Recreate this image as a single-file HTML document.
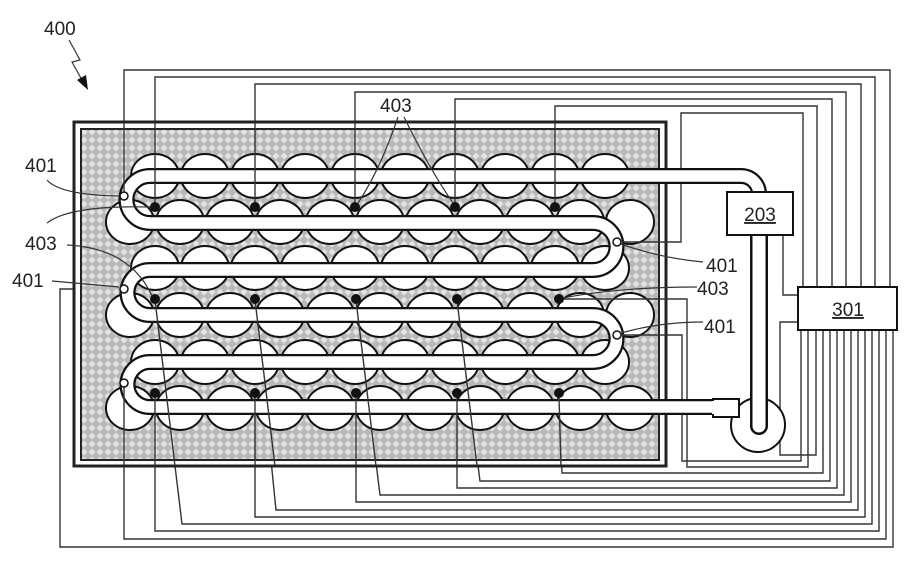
<!DOCTYPE html>
<html><head><meta charset="utf-8"><style>html,body{margin:0;padding:0;background:#fff}svg{display:block}text{font-family:"Liberation Sans",sans-serif;fill:#222}</style></head>
<body>
<svg width="914" height="568" viewBox="0 0 914 568" xmlns="http://www.w3.org/2000/svg">
<defs>
<pattern id="hp" width="8" height="8" patternUnits="userSpaceOnUse">
<rect width="8" height="8" fill="#b9b9b9"/>
<path d="M4,0.5 L7.5,4 L4,7.5 L0.5,4Z" fill="#e4e4e4"/>
</pattern>
<clipPath id="pc"><rect x="81" y="129" width="578" height="331"/></clipPath>
</defs>

<!-- wires top -->
<g fill="none" stroke="#333" stroke-width="1.4">
<path d="M124,192 V70 H890 V287"/>
<path d="M155,203 V77 H875 V287"/>
<path d="M255,203 V84 H861 V287"/>
<path d="M355,203 V92 H846 V287"/>
<path d="M455,203 V99 H832 V287"/>
<path d="M555,203 V106 H817 V287"/>
<path d="M621,242 H681 V113 H803 V287"/>
<!-- bottom -->
<path d="M120,289 H60 V547 H893 V330"/>
<path d="M124,387 V539 H886 V330"/>
<path d="M155,397 V531 H879 V330"/>
<path d="M155,300 L182,524 H872 V330"/>
<path d="M255,397 V517 H865 V330"/>
<path d="M255,300 L276,510 H858 V330"/>
<path d="M356,397 V502 H851 V330"/>
<path d="M356,300 L380,495 H844 V330"/>
<path d="M457,397 V488 H837 V330"/>
<path d="M457,300 L480,481 H830 V330"/>
<path d="M559,397 L562,473 H823 V330"/>
<path d="M559,299 H687 V467 H808 V330"/>
<path d="M621,335 H682 V461 H801 V330"/>
<path d="M783,235 V295 H798"/>
<path d="M798,322 H780 V455 H816 V330"/>
</g>

<!-- panel -->
<rect x="74" y="122" width="592" height="344" fill="#fff" stroke="#222" stroke-width="3"/>
<rect x="81" y="129" width="578" height="331" fill="url(#hp)" stroke="#222" stroke-width="2"/>

<g clip-path="url(#pc)" fill="#fff" stroke="#111" stroke-width="2">
<g id="ra">
<ellipse cx="155" cy="176" rx="24" ry="22"/><ellipse cx="205" cy="176" rx="24" ry="22"/><ellipse cx="255" cy="176" rx="24" ry="22"/><ellipse cx="305" cy="176" rx="24" ry="22"/><ellipse cx="355" cy="176" rx="24" ry="22"/><ellipse cx="405" cy="176" rx="24" ry="22"/><ellipse cx="455" cy="176" rx="24" ry="22"/><ellipse cx="505" cy="176" rx="24" ry="22"/><ellipse cx="555" cy="176" rx="24" ry="22"/><ellipse cx="605" cy="176" rx="24" ry="22"/>
</g>
<g id="rb">
<ellipse cx="130" cy="222" rx="24" ry="22"/><ellipse cx="180" cy="222" rx="24" ry="22"/><ellipse cx="230" cy="222" rx="24" ry="22"/><ellipse cx="280" cy="222" rx="24" ry="22"/><ellipse cx="330" cy="222" rx="24" ry="22"/><ellipse cx="380" cy="222" rx="24" ry="22"/><ellipse cx="430" cy="222" rx="24" ry="22"/><ellipse cx="480" cy="222" rx="24" ry="22"/><ellipse cx="530" cy="222" rx="24" ry="22"/><ellipse cx="580" cy="222" rx="24" ry="22"/><ellipse cx="630" cy="222" rx="24" ry="22"/>
</g>
<use href="#ra" y="92"/><use href="#rb" y="93"/><use href="#ra" y="186"/><use href="#rb" y="186"/>
</g>

<!-- serpentine pipe -->
<circle cx="758" cy="425" r="27" fill="#fff" stroke="#111" stroke-width="2"/>
<path d="M759,192 V194 A18,18 0 0 0 741,176 H150 A23.5,23.5 0 0 0 150,223 H593 A23.5,23.5 0 0 1 593,270 H150 A22.5,22.5 0 0 0 150,315 H593 A23.5,23.5 0 0 1 593,362 H150 A22.5,22.5 0 0 0 150,407 H716" fill="none" stroke="#111" stroke-width="16"/>
<path d="M759,192 V194 A18,18 0 0 0 741,176 H150 A23.5,23.5 0 0 0 150,223 H593 A23.5,23.5 0 0 1 593,270 H150 A22.5,22.5 0 0 0 150,315 H593 A23.5,23.5 0 0 1 593,362 H150 A22.5,22.5 0 0 0 150,407 H716" fill="none" stroke="#fff" stroke-width="11.5"/>
<rect x="713" y="399" width="26" height="18" fill="#fff" stroke="#111" stroke-width="2"/>
<path d="M759,234 V426" stroke="#111" stroke-width="18" stroke-linecap="round"/>
<path d="M759,234 V426" stroke="#fff" stroke-width="13" stroke-linecap="round"/>
<rect x="712" y="401" width="4" height="13" fill="#fff"/>

<!-- wire segments over panel -->
<g fill="none" stroke="#333" stroke-width="1.4">
<path d="M124,122 V192"/><path d="M155,122 V203"/><path d="M255,122 V203"/><path d="M355,122 V203"/><path d="M455,122 V203"/><path d="M555,122 V203"/>
<path d="M124,387 V466"/><path d="M155,397 V466"/><path d="M155,300 L175,466"/><path d="M255,397 V466"/><path d="M255,300 L275,466"/><path d="M356,397 V466"/><path d="M356,300 L376,466"/><path d="M457,397 V466"/><path d="M457,300 L477,466"/><path d="M559,397 L561,466"/>
<path d="M559,299 H666"/><path d="M621,335 H666"/><path d="M621,242 H666"/>
</g>

<!-- boxes -->
<rect x="727" y="192" width="66" height="43" fill="#fff" stroke="#111" stroke-width="2"/>
<text x="760" y="221" font-size="19" text-anchor="middle" text-decoration="underline">203</text>
<rect x="798" y="287" width="99" height="43" fill="#fff" stroke="#111" stroke-width="2"/>
<text x="848" y="316" font-size="19" text-anchor="middle" text-decoration="underline">301</text>

<!-- sensors and dots -->
<g fill="#fff" stroke="#111" stroke-width="1.5">
<circle cx="124" cy="196" r="4"/><circle cx="124" cy="289" r="4"/><circle cx="124" cy="383" r="4"/><circle cx="617" cy="242" r="4"/><circle cx="617" cy="335" r="4"/>
</g>
<g fill="#111">
<circle cx="155" cy="207" r="5"/><circle cx="255" cy="207" r="5"/><circle cx="355" cy="207" r="5"/><circle cx="455" cy="207" r="5"/><circle cx="555" cy="207" r="5"/>
<circle cx="155" cy="299" r="5"/><circle cx="255" cy="299" r="5"/><circle cx="356" cy="299" r="5"/><circle cx="457" cy="299" r="5"/><circle cx="559" cy="299" r="5"/>
<circle cx="155" cy="393" r="5"/><circle cx="255" cy="393" r="5"/><circle cx="356" cy="393" r="5"/><circle cx="457" cy="393" r="5"/><circle cx="559" cy="393" r="5"/>
</g>

<!-- leaders -->
<g fill="none" stroke="#333" stroke-width="1.2">
<path d="M47,180 Q60,195 119,196"/>
<path d="M47,223 Q70,205 150,207"/>
<path d="M67,245 Q130,248 152,296"/>
<path d="M52,281 L119,287"/>
<path d="M398,117 Q380,170 358,203"/>
<path d="M404,117 Q430,170 453,203"/>
<path d="M703,262 Q660,258 621,244"/>
<path d="M697,287 Q620,287 563,298"/>
<path d="M703,322 Q660,322 621,333"/>
<path d="M69,40 L80,60 L72,62 L82,80"/>
</g>
<path d="M77,80 L88,90 L86,75Z" fill="#111"/>

<!-- labels -->
<g font-size="19">
<text x="44" y="35">400</text>
<text x="380" y="112">403</text>
<text x="25" y="172">401</text>
<text x="25" y="250">403</text>
<text x="12" y="287">401</text>
<text x="706" y="272">401</text>
<text x="697" y="295">403</text>
<text x="704" y="333">401</text>
</g>
</svg>
</body></html>
